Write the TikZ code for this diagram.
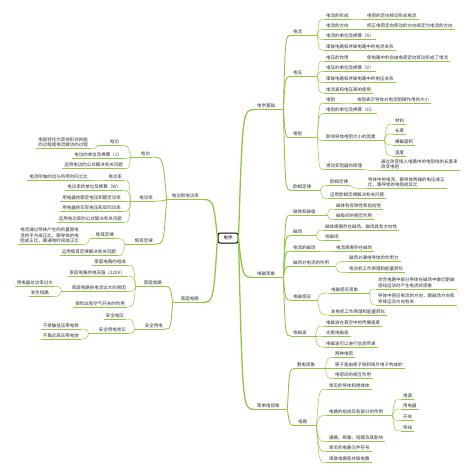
\documentclass[tikz,border=0pt]{standalone}
\usepackage{fontspec}
\newfontfamily\cjk{Noto Sans CJK SC}
\usetikzlibrary{calc}
\definecolor{lgreen}{RGB}{146,196,74}
\definecolor{ink}{RGB}{45,45,45}
% curved connector, ends flat on the child's underline
\newcommand{\lnk}[3]{\draw[#1] let \p1=(#2), \p2=(#3) in (\p1) .. controls ({\x1+0.25*(\x2-\x1)},\y2) .. (\p2);}
\tikzset{
  topic/.style={font=\cjk\fontsize{4.5}{5.8}\selectfont, text=ink, inner xsep=2pt, inner ysep=1pt},
  ul/.style={append after command={(\tikzlastnode.south west) edge[draw=lgreen, line width=#1] (\tikzlastnode.south east)}},
  r1/.style={topic, anchor=south west, align=left, ul=1.2pt},
  r2/.style={topic, anchor=south west, align=left, ul=0.8pt},
  r3/.style={topic, anchor=south west, align=left, ul=0.5pt},
  l1/.style={topic, anchor=south east, align=right, ul=1.2pt},
  l2/.style={topic, anchor=south east, align=right, ul=0.8pt},
  l3/.style={topic, anchor=south east, align=right, ul=0.5pt},
  trunk/.style={draw=lgreen, line width=1.3pt},
  bough/.style={draw=lgreen, line width=0.9pt},
  twig/.style={draw=lgreen, line width=0.5pt},
}
\begin{document}
\begin{tikzpicture}[x=1pt, y=-1pt]
  \useasboundingbox (0,0) rectangle (474,476);
  \node[draw=black, line width=1pt, rounded corners=2pt, fill=white, minimum width=20pt, minimum height=10pt, inner sep=1pt, font=\cjk\fontsize{4.5}{5.8}\selectfont] (root) at (228,238) {电学};

  % right: 电学基础
  \node[r1, text width=24pt] (jc) at (255,109.5) {电学基础};
  \node[r2, text width=22pt] (dl) at (291,35.5) {电流};
  \node[r3] (dl1) at (324,19) {电流的形成};
  \node[r3] (dl1a) at (365,19) {电荷的定向移动形成电流};
  \node[r3] (dl2) at (324,29.5) {电流的方向};
  \node[r3] (dl2a) at (365,29.5) {把正电荷定向移动的方向规定为电流的方向};
  \node[r3] (dl3) at (324,39.5) {电流的单位及换算（A）};
  \node[r3] (dl4) at (324,50) {串联电路和并联电路中的电流关系};
  \node[r2, text width=22pt] (dy) at (291,76.5) {电压};
  \node[r3] (dy1) at (324,61) {电压的作用};
  \node[r3] (dy1a) at (365,61) {使电路中的自由电荷定向移动形成了电流};
  \node[r3] (dy2) at (324,71.5) {电压的单位及换算（V）};
  \node[r3] (dy3) at (324,82.5) {串联电路和并联电路中的电压关系};
  \node[r3] (dy4) at (324,93) {电流表和电压表的使用};
  \node[r2, text width=22pt] (dz) at (291,137.5) {电阻};
  \node[r3] (dz1) at (324,103) {电阻};
  \node[r3] (dz1a) at (355,103) {电阻表示导体对电流阻碍作用的大小};
  \node[r3] (dz2) at (324,113.5) {电阻的单位及换算（Ω）};
  \node[r3, text width=56pt] (dz3) at (324,140.5) {影响导体电阻大小的因素};
  \node[r3] (dz3a) at (393,124) {材料};
  \node[r3] (dz3b) at (393,134) {长度};
  \node[r3] (dz3c) at (393,145) {横截面积};
  \node[r3] (dz3d) at (393,156) {温度};
  \node[r3] (dz4) at (324,169.5) {滑动变阻器的原理};
  \node[r3] (dz4a) at (379,170.5) {通过改变接入电路中的电阻线的长度来\\改变电阻};
  \node[r2, text width=25pt] (om) at (291,190) {欧姆定律};
  \node[r3] (om1) at (328,185.5) {欧姆定律};
  \node[r3] (om1a) at (366,188.5) {导体中的电流，跟导体两端的电压成正\\比，跟导体的电阻成反比};
  \node[r3] (om2) at (328,198.5) {运用欧姆定律解决有关问题};

  % right: 电磁现象
  \node[r1, text width=24pt] (dc) at (255,277.5) {电磁现象};
  \node[r2, text width=32pt] (ct) at (291,215) {磁体和磁极};
  \node[r3] (ct1) at (334,209) {磁体有吸铁性和指向性};
  \node[r3] (ct2) at (334,219.5) {磁极间的相互作用};
  \node[r2, text width=21pt] (cc) at (291,235.5) {磁场};
  \node[r3] (cc1) at (323,230) {磁体周围存在磁场，磁场具有方向性};
  \node[r3] (cc2) at (323,240.5) {地磁场};
  \node[r2] (dc3) at (291,251) {电流的磁场};
  \node[r3] (dc3a) at (334,251) {电流周围存在磁场};
  \node[r2, text width=40pt] (cz) at (291,266.5) {磁场对电流的作用};
  \node[r3] (cz1) at (347,261.5) {磁场对通电导体的作用力};
  \node[r3] (cz2) at (347,272.5) {电动机工作原理和能量转化};
  \node[r2, text width=22pt] (dg) at (291,300) {电磁感应};
  \node[r3, text width=36pt] (dg1) at (329,293) {电磁感应现象};
  \node[r3] (dg1a) at (376,289) {闭合电路中部分导体在磁场中做切割磁\\感线运动时产生电流的现象};
  \node[r3] (dg1b) at (376,305) {导体中感应电流的方向，跟磁场方向和\\导体运动方向有关};
  \node[r3] (dg2) at (329,315) {发电机工作原理和能量转化};
  \node[r2, text width=20pt] (db) at (291,336) {电磁波};
  \node[r3] (db1) at (324,326) {电磁波在真空中的传播速度};
  \node[r3] (db2) at (324,336) {光是电磁波};
  \node[r3] (db3) at (324,347) {电磁波可以进行信息传递};

  % right: 简单电现象
  \node[r1, text width=28pt] (jd) at (255,409.5) {简单电现象};
  \node[r2, text width=26pt] (jdj) at (295,368.5) {静电现象};
  \node[r3] (jdj1) at (333,357.5) {两种电荷};
  \node[r3] (jdj2) at (333,368.5) {原子是由原子核和核外电子构成的};
  \node[r3] (jdj3) at (333,378.5) {电荷间的相互作用};
  \node[r2, text width=16pt] (dlu) at (296,425.5) {电路};
  \node[r3] (dlu1) at (327,389) {常见的导体和绝缘体};
  \node[r3, text width=61pt] (dlu2) at (327,415.5) {电路的组成及各部分的作用};
  \node[r3] (dlu2a) at (401,399) {电源};
  \node[r3] (dlu2b) at (401,409) {用电器};
  \node[r3] (dlu2c) at (401,420.5) {开关};
  \node[r3] (dlu2d) at (401,431) {导线};
  \node[r3] (dlu3) at (327,441.5) {通路、断路、短路及其影响};
  \node[r3] (dlu4) at (327,451.5) {常见的电路元件符号};
  \node[r3] (dlu5) at (327,462.5) {串联电路和并联电路};

  % left: 电功和电功率
  \node[l1, text width=30pt] (dgl) at (201,199.5) {电功和电功率};
  \node[l2, text width=17pt] (dgn) at (152,157) {电功};
  \node[l3, text width=19pt] (dgn1) at (121,145.5) {电功};
  \node[l3, align=left] (dgn1a) at (90,148.5) {电能转化为其他形式的能\\的过程是电流做功的过程};
  \node[l3] (dgn2) at (124,158.5) {电功的单位及换算（J）};
  \node[l3] (dgn3) at (125,168.5) {运用电功的公式解决有关问题};
  \node[l2, text width=20pt] (gl) at (155,201) {电功率};
  \node[l3] (gl1) at (124,180) {电功率};
  \node[l3] (gl1a) at (90,180) {电流所做的功与所用时间之比};
  \node[l3] (gl2) at (123,190.5) {电功率的单位及换算（W）};
  \node[l3] (gl3) at (123,201) {用电器的额定电压和额定功率};
  \node[l3] (gl4) at (123,211.5) {用电器的实际电压和实际功率};
  \node[l3] (gl5) at (124,222.5) {运用电功率的公式解决有关问题};
  \node[l2, text width=26pt] (jr) at (155,244) {焦耳定律};
  \node[l3, text width=22pt] (jr1) at (116,238.5) {焦耳定律};
  \node[l3, align=left] (jr1a) at (81,244.5) {电流通过导体产生的热量跟电\\流的平方成正比，跟导体的电\\阻成正比，跟通电时间成正比};
  \node[l3] (jr2) at (118,255.5) {运用焦耳定律解决有关问题};

  % left: 家庭电路
  \node[l1, text width=24pt] (jt) at (201,302.5) {家庭电路};
  \node[l2, text width=24pt] (jt1) at (164,286.5) {家庭电路};
  \node[l3] (jt11) at (128,265.5) {家庭电路的组成};
  \node[l3] (jt12) at (127,276) {家庭电路的电压值（220V）};
  \node[l3, text width=62pt] (jt13) at (128,291.5) {家庭电路的电流过大的原因};
  \node[l3] (jt131) at (55,286.5) {用电器总功率过大};
  \node[l3] (jt132) at (51,296.5) {发生短路};
  \node[l3] (jt14) at (127,307) {保险丝和空气开关的作用};
  \node[l2, text width=26pt] (aq) at (165,329) {安全用电};
  \node[l3] (aq1) at (126,319) {安全电压};
  \node[l3, text width=35pt] (aq2) at (128,333.5) {安全用电常识};
  \node[l3] (aq21) at (81,329) {不接触低压带电体};
  \node[l3] (aq22) at (81,339) {不靠近高压带电体};

  % connectors
  \foreach \b in {jc,dc,jd} {\lnk{trunk}{root.east}{\b.south west}}
  \foreach \b in {dgl,jt} {\lnk{trunk}{root.west}{\b.south east}}
  \foreach \a/\b in {jc/dl,jc/dy,jc/dz,jc/om,dc/ct,dc/cc,dc/dc3,dc/cz,dc/dg,dc/db,jd/jdj,jd/dlu}
    {\lnk{bough}{\a.south east}{\b.south west}}
  \foreach \a/\b in {dgl/dgn,dgl/gl,dgl/jr,jt/jt1,jt/aq}
    {\lnk{bough}{\a.south west}{\b.south east}}
  \foreach \a/\b in {dl/dl1,dl/dl2,dl/dl3,dl/dl4,dl1/dl1a,dl2/dl2a,
      dy/dy1,dy/dy2,dy/dy3,dy/dy4,dy1/dy1a,
      dz/dz1,dz/dz2,dz/dz3,dz/dz4,dz1/dz1a,dz3/dz3a,dz3/dz3b,dz3/dz3c,dz3/dz3d,dz4/dz4a,
      om/om1,om/om2,om1/om1a,ct/ct1,ct/ct2,cc/cc1,cc/cc2,dc3/dc3a,cz/cz1,cz/cz2,
      dg/dg1,dg/dg2,dg1/dg1a,dg1/dg1b,db/db1,db/db2,db/db3,
      jdj/jdj1,jdj/jdj2,jdj/jdj3,dlu/dlu1,dlu/dlu2,dlu/dlu3,dlu/dlu4,dlu/dlu5,
      dlu2/dlu2a,dlu2/dlu2b,dlu2/dlu2c,dlu2/dlu2d}
    {\lnk{twig}{\a.south east}{\b.south west}}
  \foreach \a/\b in {dgn/dgn1,dgn/dgn2,dgn/dgn3,dgn1/dgn1a,
      gl/gl1,gl/gl2,gl/gl3,gl/gl4,gl/gl5,gl1/gl1a,jr/jr1,jr/jr2,jr1/jr1a,
      jt1/jt11,jt1/jt12,jt1/jt13,jt1/jt14,jt13/jt131,jt13/jt132,
      aq/aq1,aq/aq2,aq2/aq21,aq2/aq22}
    {\lnk{twig}{\a.south west}{\b.south east}}
\end{tikzpicture}
\end{document}
